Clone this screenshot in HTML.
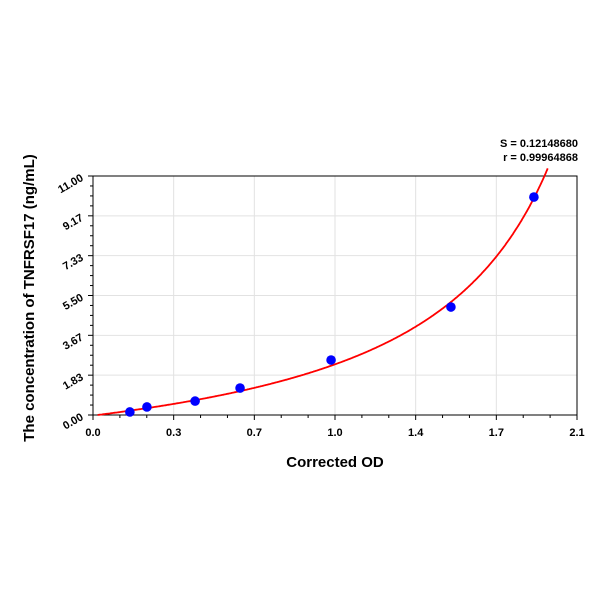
<!DOCTYPE html>
<html><head><meta charset="utf-8"><style>
body{margin:0;background:#fff;}
svg{display:block;font-family:"Liberation Sans",Arial,sans-serif;}
</style></head><body>
<svg id="chart" width="600" height="600"></svg>
<script>
const xTicks=[0,0.35,0.7,1.05,1.4,1.75,2.1];
const xTickLabels=["0.0","0.3","0.7","1.0","1.4","1.7","2.1"];
const yTicks=[0,1.833,3.667,5.5,7.333,9.167,11];
const yTickLabels=["0.00","1.83","3.67","5.50","7.33","9.17","11.00"];
const odValues=[0.16,0.234,0.443,0.638,1.033,1.553,1.913];
const concValues=[0.14,0.37,0.64,1.24,2.53,4.97,10.03];

const L=93,R=577,T=176,B=415,XMAX=2.1,YMAX=11;
const sx=v=>L+v/XMAX*(R-L), sy=v=>B-v/YMAX*(B-T);
const svg=document.getElementById('chart');
const NS='http://www.w3.org/2000/svg';
function mk(tag,attrs,parent){const e=document.createElementNS(NS,tag);for(const k in attrs)e.setAttribute(k,attrs[k]);(parent||svg).appendChild(e);return e;}

xTicks.forEach((v,i)=>{if(i>0&&i<xTicks.length-1){const g=mk('line',{x1:sx(v),x2:sx(v),y1:T,y2:B,stroke:'#e2e2e2','stroke-width':1});

}});
yTicks.forEach((v,i)=>{if(i>0&&i<yTicks.length-1){const g=mk('line',{x1:L,x2:R,y1:sy(v),y2:sy(v),stroke:'#e2e2e2','stroke-width':1});

}});

const fr=mk('rect',{x:L,y:T,width:R-L,height:B-T,fill:'none',stroke:'#000','stroke-width':1});



for(let i=0;i<xTicks.length;i++){
  const v=xTicks[i];
  mk('line',{x1:sx(v),x2:sx(v),y1:B,y2:B+5,stroke:'#000'});
  if(i<xTicks.length-1){for(let k=1;k<3;k++){const m=v+(xTicks[i+1]-v)*k/3;mk('line',{x1:sx(m),x2:sx(m),y1:B,y2:B+3,stroke:'#000'});}}
  const t=mk('text',{x:sx(v),y:B+21,'text-anchor':'middle','font-size':11,'font-weight':'bold',fill:'#000'});
  t.textContent=xTickLabels[i];
  
  
}
for(let i=0;i<yTicks.length;i++){
  const v=yTicks[i];
  mk('line',{x1:L-5,x2:L,y1:sy(v),y2:sy(v),stroke:'#000'});
  if(i<yTicks.length-1){for(let k=1;k<4;k++){const m=v+(yTicks[i+1]-v)*k/4;mk('line',{x1:L-3,x2:L,y1:sy(m),y2:sy(m),stroke:'#000'});}}
  const t=mk('text',{x:L-9,y:sy(v)+4,'text-anchor':'end','font-size':11,'font-weight':'bold',fill:'#000',transform:`rotate(-30 ${L-9} ${sy(v)+4})`});
  t.textContent=yTickLabels[i];
  
  
}

// fit y = c*(x-x0)/(d-x) by grid search on d, closed form c
const x0=0.02;
let best={err:Infinity,c:1,d:2.5};
for(let d=1.95;d<5;d+=0.002){
  const g=odValues.map(x=>(x-x0)/(d-x));
  let num=0,den=0;g.forEach((gi,i)=>{num+=gi*concValues[i];den+=gi*gi;});
  const c=num/den;let err=0;g.forEach((gi,i)=>{err+=(c*gi-concValues[i])**2;});
  if(err<best.err)best={err,c,d};
}
const f=x=>best.c*(x-x0)/(best.d-x);
let d='';
for(let x=x0;x<best.d;x+=0.003){const y=f(x);if(y>11.4)break;d+=(d?'L':'M')+sx(x).toFixed(1)+','+sy(Math.max(y,0)).toFixed(1);}
const curve=mk('path',{d:d,fill:'none',stroke:'#ff0000','stroke-width':1.8});



odValues.forEach((x,i)=>{const c=mk('circle',{cx:sx(x),cy:sy(concValues[i]),r:4.8,fill:'#0000ff'});

});

const xl=mk('text',{x:335,y:467,'text-anchor':'middle','font-size':15,'font-weight':'bold',fill:'#000'});xl.textContent='Corrected OD';


const yl=mk('text',{x:0,y:0,'text-anchor':'middle','font-size':15,'font-weight':'bold',fill:'#000',transform:'translate(34 298) rotate(-90)'});yl.textContent='The concentration of TNFRSF17 (ng/mL)';


const s1=mk('text',{x:578,y:147,'text-anchor':'end','font-size':11,'font-weight':'bold',fill:'#000'});s1.textContent='S = 0.12148680';


const s2=mk('text',{x:578,y:161,'text-anchor':'end','font-size':11,'font-weight':'bold',fill:'#000'});s2.textContent='r = 0.99964868';


</script>
</body></html>
